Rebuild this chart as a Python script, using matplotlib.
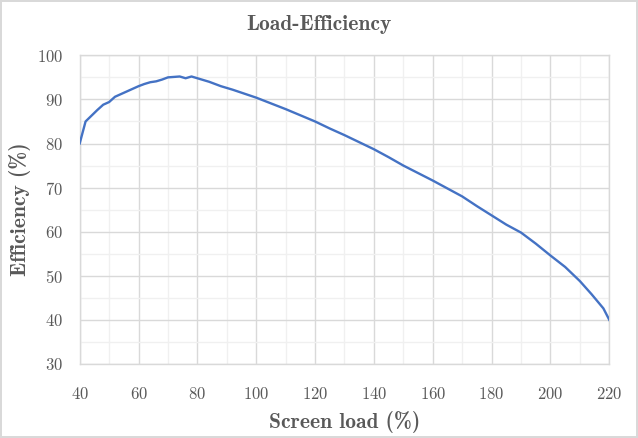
import matplotlib
matplotlib.use('Agg')
import matplotlib.pyplot as plt
from matplotlib.ticker import MultipleLocator

# Data
load = [40, 42, 44, 46, 48, 50, 52, 54, 56, 58, 60, 62, 64, 66, 68, 70, 72, 74, 76, 78,
        80, 84, 88, 92, 96, 100, 105, 110, 115, 120, 125, 130, 135, 140, 145, 150,
        155, 160, 165, 170, 175, 180, 185, 190, 195, 200, 205, 210, 214, 218, 220]
efficiency = [80.0, 85.0, 86.3, 87.6, 88.8, 89.4, 90.6, 91.2, 91.8, 92.4, 93.0, 93.5, 93.9,
              94.1, 94.5, 95.0, 95.1, 95.2, 94.8, 95.2,
              94.8, 94.0, 93.0, 92.2, 91.3, 90.4, 89.1, 87.8, 86.4, 85.0, 83.4, 81.9, 80.3,
              78.7, 76.9, 75.0, 73.3, 71.6, 69.8, 68.0, 65.8, 63.7, 61.6, 59.8, 57.3, 54.6,
              52.0, 48.8, 45.8, 42.6, 40.0]

text_color = '#595959'
regular = ['cmr10', 'DejaVu Serif']
bold = ['cmb10', 'DejaVu Serif']
plt.rcParams['axes.formatter.use_mathtext'] = True

fig = plt.figure(figsize=(6.38, 4.38), dpi=100)
fig.patch.set_edgecolor('#d9d9d9')
fig.patch.set_linewidth(1.5)
ax = fig.add_axes([0.1249, 0.169, 0.8301, 0.7047])

ax.plot(load, efficiency, color='#4472C4', linewidth=1.7, zorder=3)

ax.set_xlim(40, 220)
ax.set_ylim(30, 100)
ax.xaxis.set_major_locator(MultipleLocator(20))
ax.xaxis.set_minor_locator(MultipleLocator(10))
ax.yaxis.set_major_locator(MultipleLocator(10))
ax.yaxis.set_minor_locator(MultipleLocator(5))
ax.grid(which='major', color='#d9d9d9', linewidth=1.0)
ax.grid(which='minor', color='#f0f0f0', linewidth=1.0)
ax.set_axisbelow(True)
for s in ax.spines.values():
    s.set_color('#d9d9d9')
    s.set_linewidth(1.0)
ax.tick_params(which='both', length=0, labelcolor=text_color, labelsize=12)
ax.tick_params(axis='y', pad=12)
ax.tick_params(axis='x', pad=16)
for lab in ax.get_xticklabels() + ax.get_yticklabels():
    lab.set_family(regular)

fig.text(0.5, 1 - 25 / 438, 'Load-Efficiency', family=bold, color=text_color,
         fontsize=15.5, ha='center', va='center')
ax.set_xlabel('Screen load (%)', family=bold, color=text_color, fontsize=15.5, labelpad=6)
ax.set_ylabel('Efficiency (%)', family=bold, color=text_color, fontsize=15.5, labelpad=4)

fig.savefig('out.png', dpi=100)
